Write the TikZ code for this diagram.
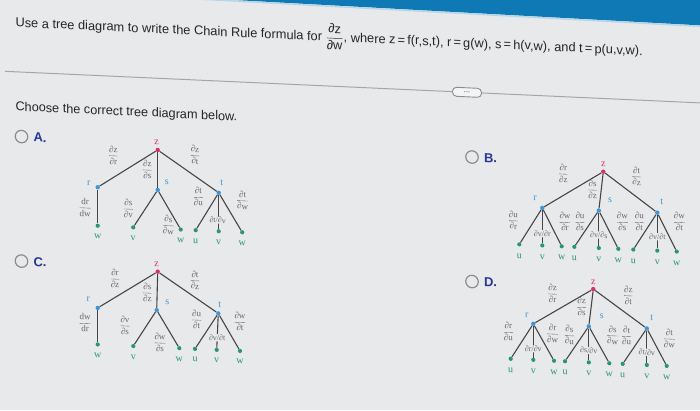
\documentclass[tikz,border=0pt]{standalone}
\usepackage{amsmath}
\usepackage{fontspec}
\setmainfont{Liberation Sans}
\newfontfamily\treefont{Liberation Serif}
\usetikzlibrary{positioning}

\definecolor{bgcol}{RGB}{232,233,235}
\definecolor{hdrcol}{RGB}{14,121,180}
\definecolor{zcol}{RGB}{214,48,110}
\definecolor{midcol}{RGB}{62,150,214}
\definecolor{leafcol}{RGB}{40,150,110}
\definecolor{edgecol}{RGB}{70,70,72}
\definecolor{labcol}{RGB}{105,105,110}
\definecolor{optcol}{RGB}{40,55,150}

\newcommand{\pfrac}[2]{$\dfrac{\text{#1}}{\text{#2}}$}

\tikzset{
  dotz/.style={circle, fill=zcol, inner sep=0pt, minimum size=4.4pt},
  dotm/.style={circle, fill=midcol, inner sep=0pt, minimum size=4.4pt},
  dotl/.style={circle, fill=leafcol, inner sep=0pt, minimum size=4.2pt},
  branch/.style={draw=edgecol, line width=1.1pt},
  pdlbl/.style={font=\treefont\fontsize{9}{10}\selectfont, text=labcol, inner sep=0pt},
  inlbl/.style={font=\treefont\fontsize{8}{9}\selectfont, text=labcol, fill=bgcol, inner sep=0.6pt},
  varlbl/.style={font=\treefont\fontsize{10}{11}\selectfont, inner sep=0pt},
  radio/.style={circle, draw=black!45, line width=1.2pt, minimum size=12.5pt, inner sep=0pt},
  optlbl/.style={font=\bfseries\fontsize{13}{15}\selectfont, text=optcol, inner sep=0pt}
}

\begin{document}
\begin{tikzpicture}[x=1pt, y=-1pt]
\useasboundingbox (0,0) rectangle (700,410);
\clip (0,0) rectangle (700,410);
\fill[bgcol] (0,0) rectangle (700,410);

\begin{scope}[yshift=15.9pt, yslant=-0.0454, every node/.append style={transform shape}]
  % header and question
  \fill[hdrcol] (-20,-60) -- (760,-60) -- (760,10) -- (-20,3) -- cycle;
  \draw[hdrcol!30!white, line width=1.5pt] (-20,4) -- (760,11);
  \node[anchor=base west, font=\fontsize{12.8}{15}\selectfont, text=black!85] (question) at (12,42)
    {Use a tree diagram to write the Chain Rule formula for $\dfrac{\text{∂z}}{\text{∂w}}$, where z\,=\,f(r,s,t), r\,=\,g(w), s\,=\,h(v,w), and t\,=\,p(u,v,w).};
  \draw[black!35, line width=1pt] (5,87) -- (760,87);
  \node[draw=black!45, fill=bgcol!50!white, rounded corners=4pt, minimum width=29pt, minimum height=9pt, inner sep=0pt, line width=0.9pt, font=\fontsize{4}{4}\selectfont, text=black!60] (more) at (467,87) {•\,•\,•};
  \node[anchor=base west, font=\fontsize{12.7}{15}\selectfont, text=black!85] (choose) at (12,126) {Choose the correct tree diagram below.};

  % options
  \node[radio] (optA) at (21.5,151.5) {};
  \node[optlbl, right=5pt of optA] (labA) {A.};
  \node[radio] (optB) at (472,151.5) {};
  \node[optlbl, right=5pt of optB] (labB) {B.};
  \node[radio] (optC) at (21.5,276) {};
  \node[optlbl, right=5pt of optC] (labC) {C.};
  \node[radio] (optD) at (472,276) {};
  \node[optlbl, right=5pt of optD] (labD) {D.};

  % tree A
  \begin{scope}[shift={(157.7,158.7)}]
    \node[dotz] (zA) at (0,0) {};
    \node[dotm] (rA) at (-60,40) {};
    \node[dotm] (sA) at (0,40) {};
    \node[dotm] (tA) at (61,40) {};
    \node[dotl] (wrA) at (-60,78.5) {};
    \node[dotl] (vsA) at (-24.5,78.5) {};
    \node[dotl] (wsA) at (23,78.5) {};
    \node[dotl] (utA) at (38,78.5) {};
    \node[dotl] (vtA) at (61,78.5) {};
    \node[dotl] (wtA) at (84.5,78.5) {};
    \draw[branch] (zA) -- (rA);
    \draw[branch] (zA) -- (sA);
    \draw[branch] (zA) -- (tA);
    \draw[branch] (rA) -- (wrA);
    \draw[branch] (sA) -- (vsA);
    \draw[branch] (sA) -- (wsA);
    \draw[branch] (tA) -- (utA);
    \draw[branch] (tA) -- (vtA);
    \draw[branch] (tA) -- (wtA);
    \node[varlbl, text=zcol] (zAl) at (-1,-7.5) {z};
    \node[varlbl, text=midcol] (rAl) at (-69,36.5) {r};
    \node[varlbl, text=midcol] (sAl) at (9,31.5) {s};
    \node[varlbl, text=midcol] (tAl) at (64,30) {t};
    \node[varlbl, text=leafcol] (wrAl) at (-60,89.5) {w};
    \node[varlbl, text=leafcol] (vsAl) at (-24.5,89.5) {v};
    \node[varlbl, text=leafcol] (wsAl) at (23,89.5) {w};
    \node[varlbl, text=leafcol] (utAl) at (38,89.5) {u};
    \node[varlbl, text=leafcol] (vtAl) at (61,89.5) {v};
    \node[varlbl, text=leafcol] (wtAl) at (84.5,89.5) {w};
    \node[pdlbl] (pzrA) at (-44.4,7.1) {\pfrac{∂z}{∂r}};
    \node[pdlbl] (pzsA) at (-10.4,19.8) {\pfrac{∂z}{∂s}};
    \node[pdlbl] (pztA) at (37.3,3.3) {\pfrac{∂z}{∂t}};
    \node[pdlbl] (prwA) at (-72.7,60.6) {\pfrac{dr}{dw}};
    \node[pdlbl] (psvA) at (-29.4,59.7) {\pfrac{∂s}{∂v}};
    \node[pdlbl] (pswA) at (10.6,74.5) {\pfrac{∂s}{∂w}};
    \node[pdlbl] (ptuA) at (40.6,44.9) {\pfrac{∂t}{∂u}};
    \node[inlbl] (ptvA) at (60,67.4) {∂t/∂v};
    \node[pdlbl] (ptwA) at (85,46.2) {\pfrac{∂t}{∂w}};
  \end{scope}

  % tree B
  \begin{scope}[shift={(603.3,160.2)}]
    \node[dotz] (zB) at (0,0) {};
    \node[dotm] (rB) at (-61,39) {};
    \node[dotm] (sB) at (-4.5,39) {};
    \node[dotm] (tB) at (54,38.5) {};
    \node[dotl] (urB) at (-84,76.5) {};
    \node[dotl] (vrB) at (-61,76.5) {};
    \node[dotl] (wrB) at (-41.6,76.5) {};
    \node[dotl] (usB) at (-29,76.5) {};
    \node[dotl] (vsB) at (-4.5,76.5) {};
    \node[dotl] (wsB) at (15,76.5) {};
    \node[dotl] (utB) at (30,76.5) {};
    \node[dotl] (vtB) at (54,76.5) {};
    \node[dotl] (wtB) at (73.4,76.5) {};
    \draw[branch] (zB) -- (rB);
    \draw[branch] (zB) -- (sB);
    \draw[branch] (zB) -- (tB);
    \draw[branch] (rB) -- (urB);
    \draw[branch] (rB) -- (vrB);
    \draw[branch] (rB) -- (wrB);
    \draw[branch] (sB) -- (usB);
    \draw[branch] (sB) -- (vsB);
    \draw[branch] (sB) -- (wsB);
    \draw[branch] (tB) -- (utB);
    \draw[branch] (tB) -- (vtB);
    \draw[branch] (tB) -- (wtB);
    \node[varlbl, text=zcol] (zBl) at (0,-7) {z};
    \node[varlbl, text=midcol] (rBl) at (-68.3,29.7) {r};
    \node[varlbl, text=midcol] (sBl) at (6.7,28.1) {s};
    \node[varlbl, text=midcol] (tBl) at (58.4,27.2) {t};
    \node[varlbl, text=leafcol] (urBl) at (-84,88) {u};
    \node[varlbl, text=leafcol] (vrBl) at (-61,88) {v};
    \node[varlbl, text=leafcol] (wrBl) at (-41.6,88) {w};
    \node[varlbl, text=leafcol] (usBl) at (-29,88) {u};
    \node[varlbl, text=leafcol] (vsBl) at (-4.5,88) {v};
    \node[varlbl, text=leafcol] (wsBl) at (15,88) {w};
    \node[varlbl, text=leafcol] (utBl) at (30,88) {u};
    \node[varlbl, text=leafcol] (vtBl) at (54,88) {v};
    \node[varlbl, text=leafcol] (wtBl) at (73.4,88) {w};
    \node[pdlbl] (przB) at (-40,3.4) {\pfrac{∂r}{∂z}};
    \node[pdlbl] (pszB) at (-10.6,18.1) {\pfrac{∂s}{∂z}};
    \node[pdlbl] (ptzB) at (33.4,2.8) {\pfrac{∂t}{∂z}};
    \node[pdlbl] (purB) at (-90,52.4) {\pfrac{∂u}{∂r}};
    \node[inlbl] (pvrB) at (-61,64.8) {∂v/∂r};
    \node[pdlbl] (pwrB) at (-38.3,51.8) {\pfrac{∂w}{∂r}};
    \node[pdlbl] (pusB) at (-23.3,51.1) {\pfrac{∂u}{∂s}};
    \node[inlbl] (pvsB) at (-4.5,63.5) {∂v/∂s};
    \node[pdlbl] (pwsB) at (19,49.1) {\pfrac{∂w}{∂s}};
    \node[pdlbl] (putB) at (36,48.4) {\pfrac{∂u}{∂t}};
    \node[inlbl] (pvtB) at (54,62.6) {∂v/∂t};
    \node[pdlbl] (pwtB) at (76,46.6) {\pfrac{∂w}{∂t}};
  \end{scope}

  % tree C
  \begin{scope}[shift={(157.7,280.4)}]
    \node[dotz] (zC) at (0,0) {};
    \node[dotm] (rC) at (-60,39) {};
    \node[dotm] (sC) at (-1,38.5) {};
    \node[dotm] (tC) at (60.6,39) {};
    \node[dotl] (wrC) at (-60,75.5) {};
    \node[dotl] (vsC) at (-24.4,75.5) {};
    \node[dotl] (wsC) at (21.6,75.5) {};
    \node[dotl] (utC) at (37.3,75.5) {};
    \node[dotl] (vtC) at (59,75.5) {};
    \node[dotl] (wtC) at (82.3,75.5) {};
    \draw[branch] (zC) -- (rC);
    \draw[branch] (zC) -- (sC);
    \draw[branch] (zC) -- (tC);
    \draw[branch] (rC) -- (wrC);
    \draw[branch] (sC) -- (vsC);
    \draw[branch] (sC) -- (wsC);
    \draw[branch] (tC) -- (utC);
    \draw[branch] (tC) -- (vtC);
    \draw[branch] (tC) -- (wtC);
    \node[varlbl, text=zcol] (zCl) at (-1,-7) {z};
    \node[varlbl, text=midcol] (rCl) at (-69.4,30.5) {r};
    \node[varlbl, text=midcol] (sCl) at (9.6,30) {s};
    \node[varlbl, text=midcol] (tCl) at (62,30.5) {t};
    \node[varlbl, text=leafcol] (wrCl) at (-60,86.5) {w};
    \node[varlbl, text=leafcol] (vsCl) at (-24.4,86.5) {v};
    \node[varlbl, text=leafcol] (wsCl) at (21.6,86.5) {w};
    \node[varlbl, text=leafcol] (utCl) at (37.3,86.5) {u};
    \node[varlbl, text=leafcol] (vtCl) at (59,86.5) {v};
    \node[varlbl, text=leafcol] (wtCl) at (82.3,86.5) {w};
    \node[pdlbl] (przC) at (-42.7,8.6) {\pfrac{∂r}{∂z}};
    \node[pdlbl] (pszC) at (-10.4,21.1) {\pfrac{∂s}{∂z}};
    \node[pdlbl] (ptzC) at (37.3,6.6) {\pfrac{∂t}{∂z}};
    \node[pdlbl] (pwrC) at (-72.7,54.5) {\pfrac{dw}{dr}};
    \node[pdlbl] (pvsC) at (-32.7,55) {\pfrac{∂v}{∂s}};
    \node[pdlbl] (pwsC) at (2.3,70.5) {\pfrac{∂w}{∂s}};
    \node[pdlbl] (putC) at (39,45.9) {\pfrac{∂u}{∂t}};
    \node[inlbl] (pvtC) at (59.5,63.4) {∂v/∂t};
    \node[pdlbl] (pwtC) at (82.3,46.3) {\pfrac{∂w}{∂t}};
  \end{scope}

  % tree D
  \begin{scope}[shift={(593.3,278)}]
    \node[dotz] (zD) at (0,0) {};
    \node[dotm] (rD) at (-60,37.5) {};
    \node[dotm] (sD) at (-4.5,37.5) {};
    \node[dotm] (tD) at (53.5,37) {};
    \node[dotl] (urD) at (-82.6,73.5) {};
    \node[dotl] (vrD) at (-60,73.5) {};
    \node[dotl] (wrD) at (-39.3,73.5) {};
    \node[dotl] (usD) at (-28.3,73.5) {};
    \node[dotl] (vsD) at (-4.5,73.5) {};
    \node[dotl] (wsD) at (16,73.5) {};
    \node[dotl] (utD) at (29.4,73.5) {};
    \node[dotl] (vtD) at (53.5,73.5) {};
    \node[dotl] (wtD) at (73.4,73.5) {};
    \draw[branch] (zD) -- (rD);
    \draw[branch] (zD) -- (sD);
    \draw[branch] (zD) -- (tD);
    \draw[branch] (rD) -- (urD);
    \draw[branch] (rD) -- (vrD);
    \draw[branch] (rD) -- (wrD);
    \draw[branch] (sD) -- (usD);
    \draw[branch] (sD) -- (vsD);
    \draw[branch] (sD) -- (wsD);
    \draw[branch] (tD) -- (utD);
    \draw[branch] (tD) -- (vtD);
    \draw[branch] (tD) -- (wtD);
    \node[varlbl, text=zcol] (zDl) at (0,-7) {z};
    \node[varlbl, text=midcol] (rDl) at (-66.6,29) {r};
    \node[varlbl, text=midcol] (sDl) at (8.4,27.3) {s};
    \node[varlbl, text=midcol] (tDl) at (58.4,26.6) {t};
    \node[varlbl, text=leafcol] (urDl) at (-82.6,85) {u};
    \node[varlbl, text=leafcol] (vrDl) at (-60,85) {v};
    \node[varlbl, text=leafcol] (wrDl) at (-39.3,85) {w};
    \node[varlbl, text=leafcol] (usDl) at (-28.3,85) {u};
    \node[varlbl, text=leafcol] (vsDl) at (-4.5,85) {v};
    \node[varlbl, text=leafcol] (wsDl) at (16,85) {w};
    \node[varlbl, text=leafcol] (utDl) at (29.4,85) {u};
    \node[varlbl, text=leafcol] (vtDl) at (53.5,85) {v};
    \node[varlbl, text=leafcol] (wtDl) at (73.4,85) {w};
    \node[pdlbl] (pzrD) at (-40.6,6.1) {\pfrac{∂z}{∂r}};
    \node[pdlbl] (pzsD) at (-11.6,18.2) {\pfrac{∂z}{∂s}};
    \node[pdlbl] (pztD) at (35,4.4) {\pfrac{∂z}{∂t}};
    \node[pdlbl] (pruD) at (-85,46.5) {\pfrac{∂r}{∂u}};
    \node[inlbl] (prvD) at (-60,62.6) {∂r/∂v};
    \node[pdlbl] (prwD) at (-40.6,46.1) {\pfrac{∂r}{∂w}};
    \node[pdlbl] (psuD) at (-24,47) {\pfrac{∂s}{∂u}};
    \node[inlbl] (psvD) at (-4.5,61.5) {∂s/∂v};
    \node[pdlbl] (pswD) at (19.4,45.1) {\pfrac{∂s}{∂w}};
    \node[pdlbl] (ptuD) at (33.4,45.2) {\pfrac{∂t}{∂u}};
    \node[inlbl] (ptvD) at (53.5,60.8) {∂t/∂v};
    \node[pdlbl] (ptwD) at (76,45.8) {\pfrac{∂t}{∂w}};
  \end{scope}
\end{scope}
\end{tikzpicture}
\end{document}
